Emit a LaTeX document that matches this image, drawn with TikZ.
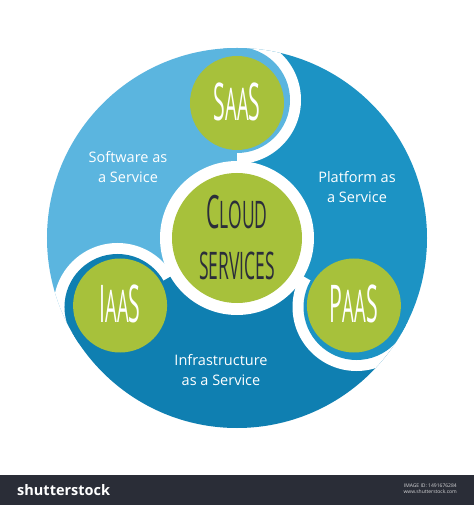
\documentclass[tikz,border=0pt]{standalone}
\usepackage{fontspec}
\usepackage{graphicx}
\setmainfont{Open Sans}
\usetikzlibrary{calc}
\definecolor{lightb}{HTML}{5BB5DF}
\definecolor{midb}{HTML}{1C93C4}
\definecolor{darkb}{HTML}{0F7FB1}
\definecolor{leaf}{HTML}{A7C13B}
\definecolor{ink}{HTML}{2B2D3A}
\definecolor{barc}{HTML}{2A2D37}
\newcommand{\satbig}[1]{{\fontsize{52}{52}\selectfont #1}}
\newcommand{\satsml}[1]{{\fontsize{45}{45}\selectfont #1}}
\newcommand{\cenbig}[1]{{\fontsize{46}{46}\selectfont #1}}
\newcommand{\censml}[1]{{\fontsize{38}{38}\selectfont #1}}
\tikzset{
  sat/.style={circle, fill=leaf, minimum size=94pt, inner sep=0pt, text=white},
  hub/.style={circle, fill=leaf, minimum size=130pt, inner sep=0pt, text=ink, align=center, font=\fontsize{38}{49}\selectfont},
  lbl/.style={text=white, align=center, font=\fontsize{14.5}{20}\selectfont}
}
\begin{document}
\begin{tikzpicture}[x=1pt,y=1pt]
\useasboundingbox (-237,-267) rectangle (237,238);
\fill[white] (-237,-267) rectangle (237,238);
\coordinate (C) at (0,0);
\coordinate (rimS) at (90:138);
\coordinate (rimI) at (210:138);
\coordinate (rimP) at (330:138);
\begin{scope}
  \clip (C) circle [radius=190];
  \fill[lightb] (C) -- (90:260) arc[start angle=90,end angle=210,radius=260] -- cycle;
  \fill[darkb] (C) -- (210:260) arc[start angle=210,end angle=330,radius=260] -- cycle;
  \fill[midb] (C) -- (330:260) arc[start angle=330,end angle=450,radius=260] -- cycle;
  \begin{scope}
    \clip (C) -- (330:260) arc[start angle=330,end angle=450,radius=260] -- cycle;
    \fill[white] (rimS) circle [radius=64];
  \end{scope}
  \begin{scope}
    \clip (C) -- (90:260) arc[start angle=90,end angle=210,radius=260] -- cycle;
    \fill[white] (rimI) circle [radius=64];
  \end{scope}
  \begin{scope}
    \clip (C) -- (210:260) arc[start angle=210,end angle=330,radius=260] -- cycle;
    \fill[white] (rimP) circle [radius=64];
  \end{scope}
  \fill[lightb] (rimS) circle [radius=53];
  \fill[darkb] (rimI) circle [radius=53];
  \fill[midb] (rimP) circle [radius=53];
\end{scope}
\fill[white] (C) circle [radius=77];
\node[hub] (cloud) at (0,0) {\raisebox{2pt}{\scalebox{0.46}[1]{\cenbig{C}\censml{LOUD}}}\\\scalebox{0.46}[1]{\censml{SERVICES}}};
\node[sat] (saas) at (90:135) {\raisebox{3pt}{\scalebox{0.41}[1]{\satbig{S}\satsml{AA}\satbig{S}}}};
\node[sat] (iaas) at (210:135) {\raisebox{3pt}{\scalebox{0.41}[1]{\satbig{I}\satsml{AA}\satbig{S}}}};
\node[sat] (paas) at (330:135) {\raisebox{3pt}{\scalebox{0.41}[1]{\satbig{P}\satsml{AA}\satbig{S}}}};
\node[lbl] (sw) at (-109,71) {Software as\\a Service};
\node[lbl] (pf) at (120,51) {Platform as\\a Service};
\node[lbl] (inf) at (-16,-132) {Infrastructure\\as a Service};
\fill[barc] (-237,-267) rectangle (237,-237);
\node[anchor=west, text=white, font=\bfseries\fontsize{14.5}{15}\selectfont, inner sep=0pt] (brand) at (-220,-252) {shutterstock};
\node[anchor=east, text=white!80!barc, font=\fontsize{5}{6}\selectfont, inner sep=0pt, align=right] (imgid) at (220,-251) {IMAGE ID: 1491676284\\www.shutterstock.com};
\end{tikzpicture}
\end{document}
